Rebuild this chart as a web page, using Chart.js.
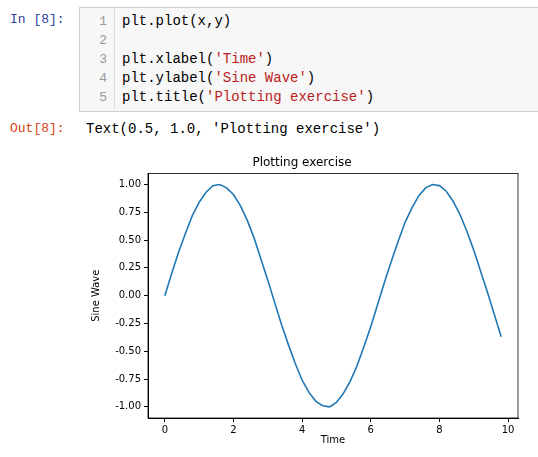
<!DOCTYPE html>
<html><head><meta charset="utf-8">
<script src="https://cdn.jsdelivr.net/npm/chart.js@4"></script>
<style>
body{margin:0;background:#fff;width:538px;height:457px;position:relative;overflow:hidden;font-family:"Liberation Mono",monospace}
.p{position:absolute;font-size:13px}
#cell{position:absolute;left:79px;top:7px;width:470px;height:103px;background:#f7f7f7;border:1px solid #cfcfcf}
#nums{position:absolute;left:92px;top:12px;font-size:13px;line-height:19px;color:#999;text-align:right;width:15px}
#sep{position:absolute;left:114px;top:8px;width:1px;height:102px;background:#ddd}
#code{position:absolute;left:122px;top:12px;font-size:14px;line-height:19px;color:#000;white-space:pre}
.s{color:#ba2121}
#wrap{position:absolute;left:86px;top:150px;width:440px;height:300px}
</style></head><body>
<div class="p" style="left:10px;top:12px;color:#303f9f">In [8]:</div>
<div id="cell"></div><div id="sep"></div>
<div id="nums">1<br>2<br>3<br>4<br>5</div>
<div id="code">plt.plot(x,y)

plt.xlabel(<span class="s">'Time'</span>)
plt.ylabel(<span class="s">'Sine Wave'</span>)
plt.title(<span class="s">'Plotting exercise'</span>)</div>
<div class="p" style="left:10px;top:121px;color:#d84315">Out[8]:</div>
<div class="p" style="left:86px;top:121px;color:#000;font-size:14px">Text(0.5, 1.0, 'Plotting exercise')</div>
<div id="wrap"><canvas id="c"></canvas></div>
<script>
const xValues=[0,0.2,0.4,0.6,0.8,1.0,1.2,1.4,1.6,1.8,2.0,2.2,2.4,2.6,2.8,3.0,3.2,3.4,3.6,3.8,4.0,4.2,4.4,4.6,4.8,5.0,5.2,5.4,5.6,5.8,6.0,6.2,6.4,6.6,6.8,7.0,7.2,7.4,7.6,7.8,8.0,8.2,8.4,8.6,8.8,9.0,9.2,9.4,9.6,9.8];
const yValues=[0,0.20,0.39,0.56,0.72,0.84,0.93,0.99,1.00,0.97,0.91,0.81,0.68,0.52,0.33,0.14,-0.06,-0.26,-0.44,-0.61,-0.76,-0.87,-0.95,-0.99,-1.00,-0.96,-0.88,-0.77,-0.63,-0.46,-0.28,-0.08,0.12,0.31,0.49,0.66,0.79,0.90,0.97,1.00,0.99,0.94,0.85,0.73,0.58,0.41,0.22,0.03,-0.17,-0.37];
const xTicks=[0,2,4,6,8,10];
const yTicks=[-1.00,-0.75,-0.50,-0.25,0.00,0.25,0.50,0.75,1.00];
const titleText='Plotting exercise', xTitle='Time', yTitle='Sine Wave';
const font={family:'DejaVu Sans',size:10};
const boxPlugin={id:'box',afterDraw(ch){const a=ch.chartArea,c=ch.ctx;c.save();c.strokeStyle='#000';c.lineWidth=0.8;c.strokeRect(a.left,a.top,a.right-a.left,a.bottom-a.top);c.restore();}};
new Chart(document.getElementById('c'),{
type:'line',
data:{datasets:[{data:xValues.map((x,i)=>({x,y:yValues[i]})),borderColor:'#1f77b4',borderWidth:1.6,pointRadius:0,tension:0,fill:false}]},
options:{responsive:true,maintainAspectRatio:false,animation:false,
layout:{padding:{top:6,right:8,left:0,bottom:0}},
plugins:{legend:{display:false},tooltip:{enabled:false},
title:{display:true,text:titleText,color:'#000',font:{family:'DejaVu Sans',size:12,weight:'normal'},padding:{top:0,bottom:3}}},
scales:{
x:{type:'linear',min:-0.49,max:10.29,afterFit(s){s.height=32;},
afterBuildTicks(s){s.ticks=xTicks.map(v=>({value:v}));},
ticks:{color:'#000',font,padding:2,callback:v=>String(v)},
grid:{drawOnChartArea:false,tickLength:4,color:'#000'},border:{color:'#000'},
title:{display:true,text:xTitle,color:'#000',font,padding:{top:0}}},
y:{min:-1.1,max:1.1,afterFit(s){s.width=62;},
afterBuildTicks(s){s.ticks=yTicks.map(v=>({value:v}));},
ticks:{color:'#000',font,padding:3,callback:v=>v.toFixed(2)},
grid:{drawOnChartArea:false,tickLength:4,color:'#000'},border:{color:'#000'},
title:{display:true,text:yTitle,color:'#000',font,padding:{bottom:2}}}
}},
plugins:[boxPlugin]});
</script></body></html>
